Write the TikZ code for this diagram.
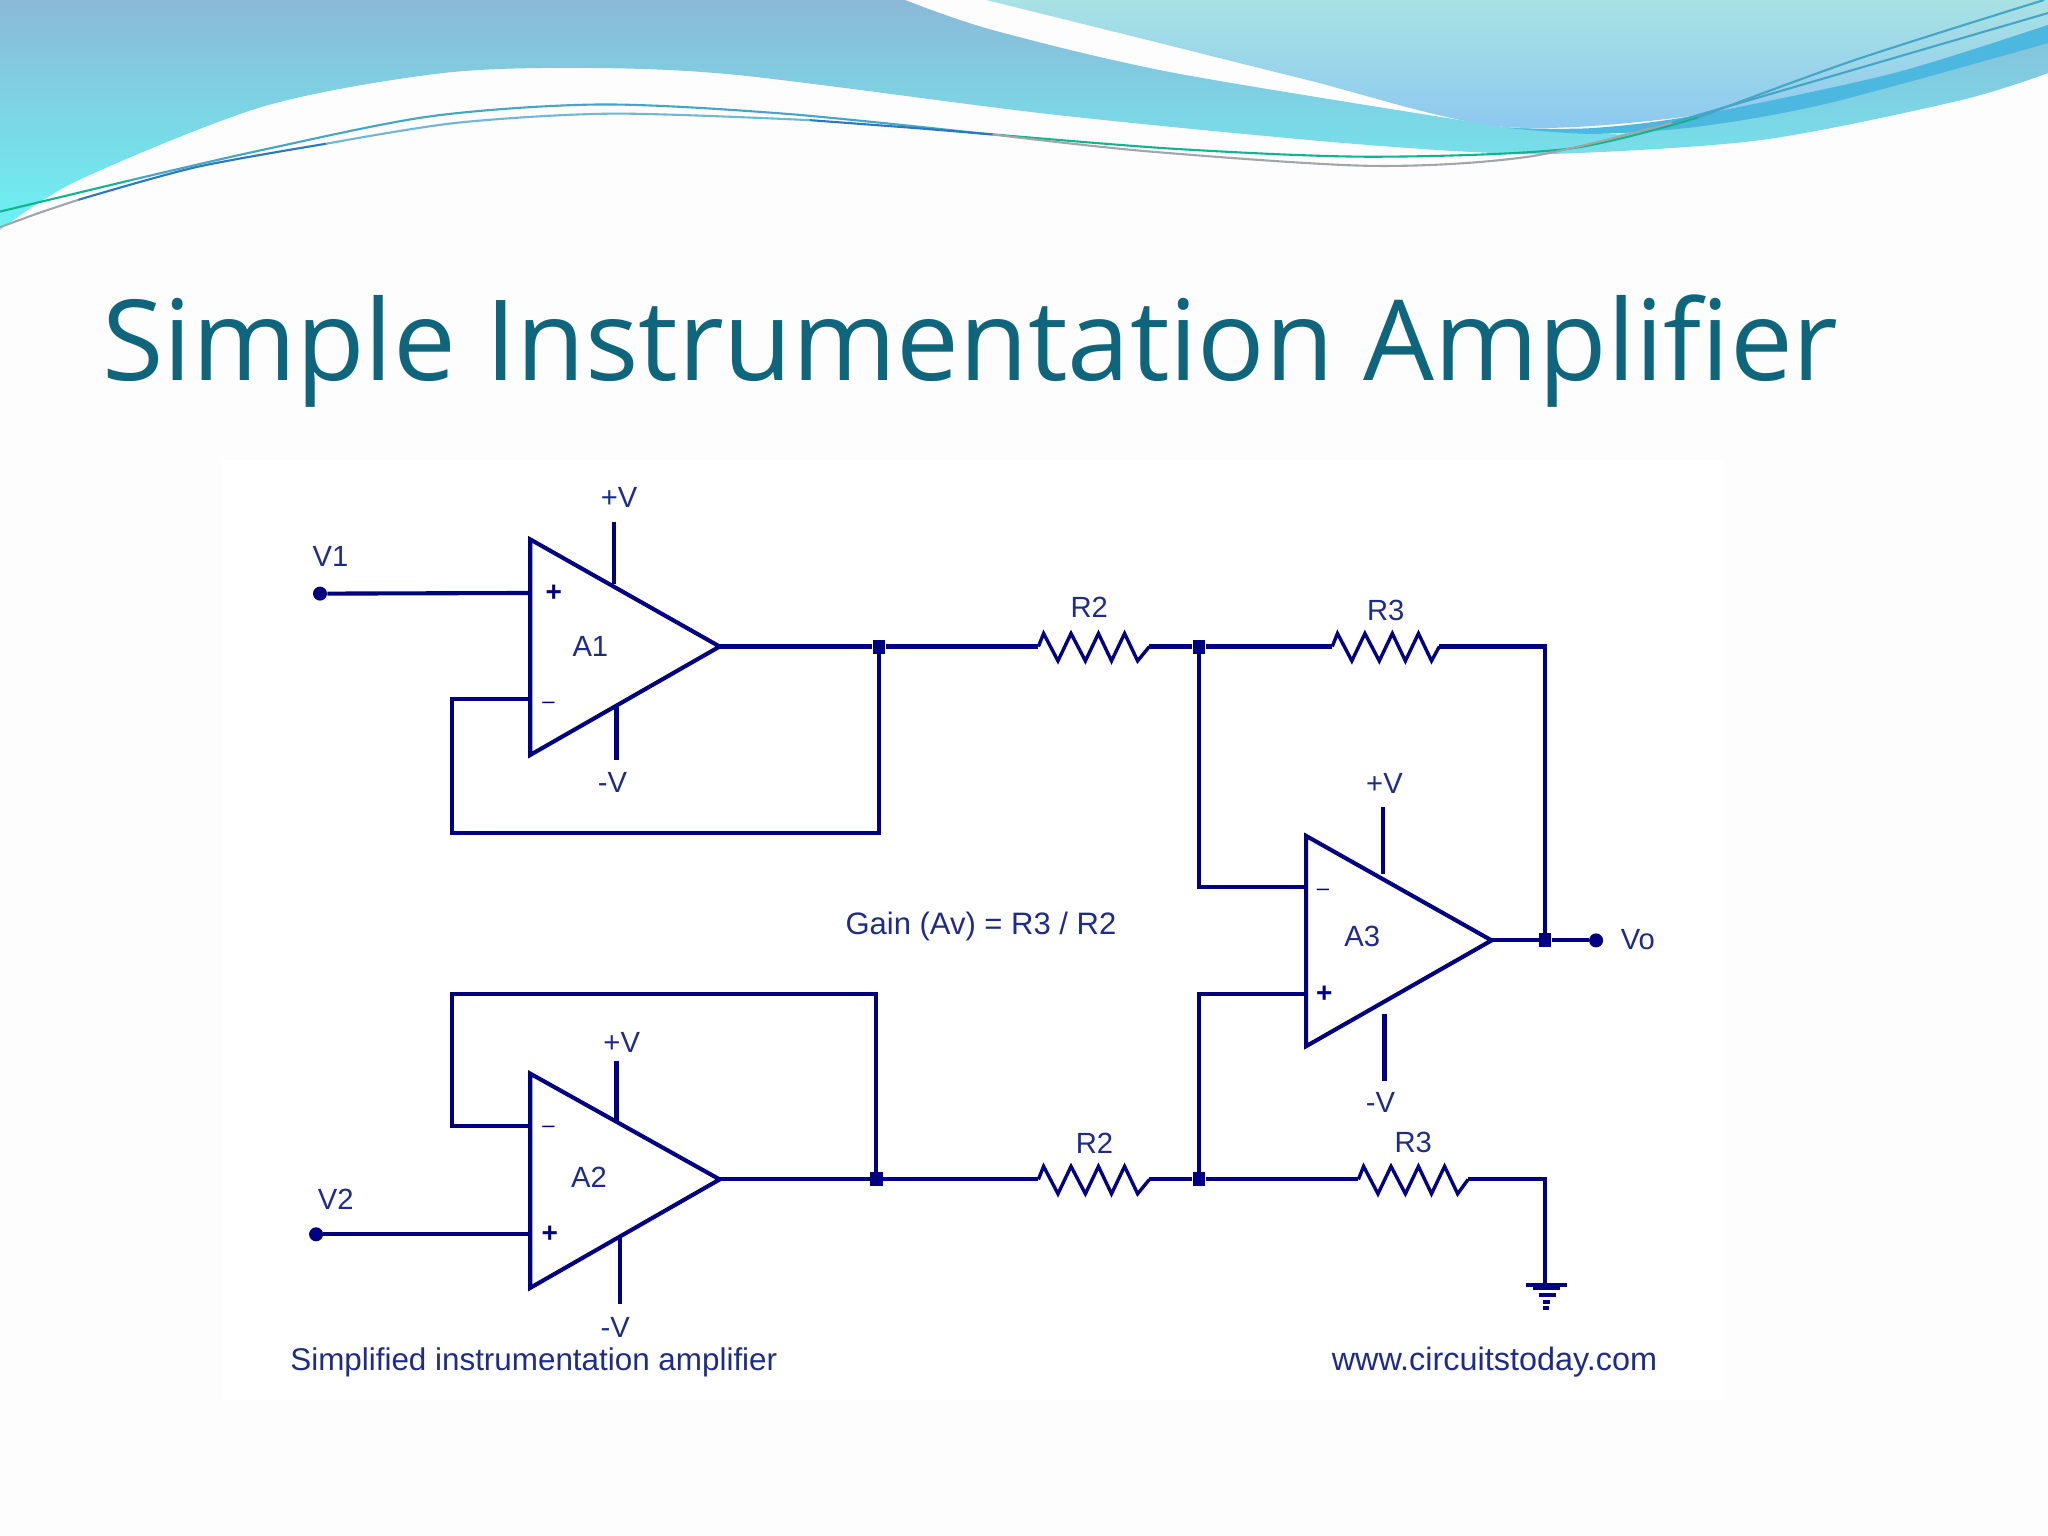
\documentclass[tikz,border=0pt]{standalone}
\usepackage{fontspec}
\setmainfont{Liberation Sans}
\newfontfamily\titlefont{Open Sans}
\definecolor{wire}{HTML}{000080}
\definecolor{lab}{HTML}{1E2C88}
\definecolor{titlecol}{HTML}{0F667C}
\definecolor{pagebg}{HTML}{FDFDFD}
\definecolor{waveTop}{HTML}{8BB9D6}
\definecolor{waveBot}{HTML}{6CF2F4}
\definecolor{lightTop}{HTML}{A8E2E4}
\definecolor{lightBot}{HTML}{8CC8F0}
\definecolor{bandc}{HTML}{4DB8DF}
\definecolor{lineBlue}{HTML}{45A5C5}
\definecolor{lineGreen}{HTML}{10B58E}
\definecolor{lineSky}{HTML}{6FB6D8}
\definecolor{lineGrey}{HTML}{A2A6A8}
\definecolor{lineDeep}{HTML}{2A78C0}
\tikzset{
  x=0.6531pt,y=-0.6531pt,
  wirepath/.style={draw=wire,line width=2.05pt,line join=miter},
  reswire/.style={draw=wire,line width=1.7pt,line join=miter},
  txt/.style={font=\fontsize{14.6}{16}\selectfont,text=lab,inner sep=0pt,anchor=center},
  junct/.style={fill=wire,draw=none,rectangle,minimum width=6.2pt,minimum height=7pt,inner sep=0pt},
  term/.style={fill=wire,draw=none,circle,minimum size=7pt,inner sep=0pt},
  pm/.style={font=\bfseries\fontsize{14}{14}\selectfont,text=wire,inner sep=0pt},
  mn/.style={font=\fontsize{11}{12}\selectfont,text=wire,inner sep=0pt},
  waveline/.style={line width=1.05pt}
}
\newcommand{\zig}[2]{%
  \draw[reswire] (#1) -- ++(4,-10) -- ++(11,21) -- ++(10,-21) -- ++(11,21) -- ++(10,-21) -- ++(10,21) -- ++(10,-21) -- ++(10,21) -- (#2);}
\begin{document}
\begin{tikzpicture}
\useasboundingbox (0,0) rectangle (1568,1176);
\fill[pagebg] (0,0) rectangle (1568,1176);
% waves
\shade[top color=waveTop,bottom color=waveBot]
  (0,0) -- (693,0) -- plot[smooth] coordinates {(693,0) (760,23) (900,56) (1150,97)}
  -- (1240,103) -- (1568,20) -- (1568,56)
  -- plot[smooth] coordinates {(1568,56) (1500,77) (1350,107) (1200,117.5) (1120,116) (1000,107) (800,87) (560,57) (430,52) (330,57) (200,82) (60,138) (0,176)}
  -- cycle;
\shade[top color=lightTop,bottom color=lightBot]
  (755,0) -- plot[smooth] coordinates {(755,0) (880,31) (1000,61) (1150,97) (1300,88) (1450,56) (1568,19)}
  -- (1568,0) -- cycle;
\fill[bandc] plot[smooth] coordinates {(1155,98) (1220,98) (1300,88) (1450,56) (1568,19)}
  -- (1568,33) -- plot[smooth] coordinates {(1568,33) (1400,79) (1300,97) (1220,102.5) (1155,98)} -- cycle;
% curved lines
\draw[lineGreen,waveline] plot[smooth] coordinates {(0,162) (50,150) (100,138)};
\draw[lineBlue,waveline] plot[smooth] coordinates {(100,138) (200,115) (330,89) (460,80) (600,87) (750,102)};
\draw[lineGreen,waveline] plot[smooth] coordinates {(750,102) (900,114) (1050,120) (1200,114) (1300,90)};
\draw[lineBlue,waveline] plot[smooth] coordinates {(1300,90) (1420,46) (1565,0)};
\draw[lineGrey,waveline] plot[smooth] coordinates {(0,174) (30,163) (60,153)};
\draw[lineDeep,waveline] plot[smooth] coordinates {(60,153) (150,128) (250,110)};
\draw[lineSky,waveline] plot[smooth] coordinates {(250,110) (350,94) (470,87) (620,92)};
\draw[lineDeep,waveline] plot[smooth] coordinates {(620,92) (700,98) (760,103)};
\draw[lineGrey,waveline] plot[smooth] coordinates {(760,103) (880,116) (1050,127) (1170,120) (1280,94)};
\draw[lineBlue,waveline] plot[smooth] coordinates {(1280,94) (1400,59) (1568,10)};
% title
\node[inner sep=0pt,anchor=base west,text=titlecol,font=\titlefont\fontsize{56}{66}\selectfont] (title) at (78,291) {Simple Instrumentation Amplifier};
% panel
\fill[white] (170,352) rectangle (1320,1072);
% coordinates
\coordinate (A1a) at (406,413); \coordinate (A1b) at (406,578); \coordinate (A1o) at (551,495);
\coordinate (A2a) at (406,822); \coordinate (A2b) at (406,986); \coordinate (A2o) at (551,903);
\coordinate (A3a) at (1000,640); \coordinate (A3b) at (1000,801); \coordinate (A3o) at (1142,720);
\coordinate (A1p) at (406,454); \coordinate (A1m) at (406,535);
\coordinate (A2m) at (406,862); \coordinate (A2p) at (406,945);
\coordinate (A3m) at (1000,679); \coordinate (A3p) at (1000,761);
\node[term] (V1d) at (245,454.5) {};
\node[term] (V2d) at (242,945) {};
\node[term] (Vod) at (1222,720) {};
\node[junct] (J1) at (673,495) {};
\node[junct] (J2) at (918,495) {};
\node[junct] (J3) at (671,903) {};
\node[junct] (J4) at (918,903) {};
\node[junct] (J5) at (1183,720) {};
\coordinate (R2ta) at (795,495); \coordinate (R2tb) at (880,495);
\coordinate (R3ta) at (1020,495); \coordinate (R3tb) at (1102,495);
\coordinate (R2ba) at (795,903); \coordinate (R2bb) at (880,903);
\coordinate (R3ba) at (1040,903); \coordinate (R3bb) at (1124,903);
\coordinate (G) at (1183,984);
% op amps
\draw[wirepath] (A1a) -- (A1b) -- (A1o) -- cycle;
\draw[wirepath] (A2a) -- (A2b) -- (A2o) -- cycle;
\draw[wirepath] (A3a) -- (A3b) -- (A3o) -- cycle;
% supplies
\coordinate (S1t) at (470,400); \coordinate (S1b) at (470,447);
\coordinate (S2t) at (472,541); \coordinate (S2b) at (472,582);
\coordinate (S3t) at (472,812); \coordinate (S3b) at (472,859);
\coordinate (S4t) at (475,948); \coordinate (S4b) at (475,998);
\coordinate (S5t) at (1059,618); \coordinate (S5b) at (1059,669);
\coordinate (S6t) at (1060,776); \coordinate (S6b) at (1060,828);
\draw[wirepath] (S1t)--(S1b) (S2t)--(S2b) (S3t)--(S3b) (S4t)--(S4b) (S5t)--(S5b) (S6t)--(S6b);
% wiring
\draw[wirepath] (V1d) -- (A1p);
\draw[wirepath] (V2d) -- (A2p);
\draw[wirepath] (A1o) -- (J1) -- (R2ta);
\draw[wirepath] (A2o) -- (J3) -- (R2ba);
\draw[wirepath] (A1m) -- (346,535) -- (346,638) -- (673,638) -- (J1);
\draw[wirepath] (A2m) -- (346,862) -- (346,761) -- (671,761) -- (J3);
\draw[wirepath] (R2tb) -- (J2) -- (R3ta);
\draw[wirepath] (R2bb) -- (J4) -- (R3ba);
\draw[wirepath] (R3tb) -- (1183,495) -- (J5);
\draw[wirepath] (R3bb) -- (1183,903) -- (G);
\draw[wirepath] (J2) -- (918,679) -- (A3m);
\draw[wirepath] (J4) -- (918,761) -- (A3p);
\draw[wirepath] (A3o) -- (J5) -- (Vod);
\zig{R2ta}{R2tb}
\zig{R3ta}{R3tb}
\zig{R2ba}{R2bb}
\zig{R3ba}{R3bb}
% ground
\fill[wire] (1168,982) rectangle (1200,985.5);
\fill[wire] (1174,985.5) rectangle (1194,988);
\fill[wire] (1178,990) rectangle (1191,993);
\fill[wire] (1181,995) rectangle (1187,998);
\fill[wire] (1181,1000) rectangle (1186,1003);
% labels
\node[txt] (tV1) at (253,426) {V1};
\node[txt] (tV2) at (257,918) {V2};
\node[txt] (tVo) at (1254,719) {Vo};
\node[txt] (tA1) at (452,495) {A1};
\node[txt] (tA2) at (451,901) {A2};
\node[txt] (tA3) at (1043,717) {A3};
\node[txt] (tp1) at (474,381) {+V};
\node[txt] (tm1) at (469,599) {-V};
\node[txt] (tp2) at (476,798) {+V};
\node[txt] (tm2) at (471,1016) {-V};
\node[txt] (tp3) at (1060,600) {+V};
\node[txt] (tm3) at (1057,844) {-V};
\node[txt] (tR2a) at (834,465) {R2};
\node[txt] (tR3a) at (1061,467) {R3};
\node[txt] (tR2b) at (838,875) {R2};
\node[txt] (tR3b) at (1082,875) {R3};
\node[txt,font=\fontsize{15.5}{16}\selectfont] (gain) at (751,709) {Gain (Av) = R3 / R2};
\node[txt,anchor=base west,font=\fontsize{15.7}{16}\selectfont] (cap) at (222,1049) {Simplified instrumentation amplifier};
\node[txt,anchor=base east,font=\fontsize{16.2}{16}\selectfont] (url) at (1269,1049) {www.circuitstoday.com};
\node[pm] (pm1) at (424,454) {+};
\node[mn] (pm2) at (420,540) {–};
\node[mn] (pm3) at (420,865) {–};
\node[pm] (pm4) at (421,945) {+};
\node[mn] (pm5) at (1013,683) {–};
\node[pm] (pm6) at (1014,761) {+};
\end{tikzpicture}
\end{document}
